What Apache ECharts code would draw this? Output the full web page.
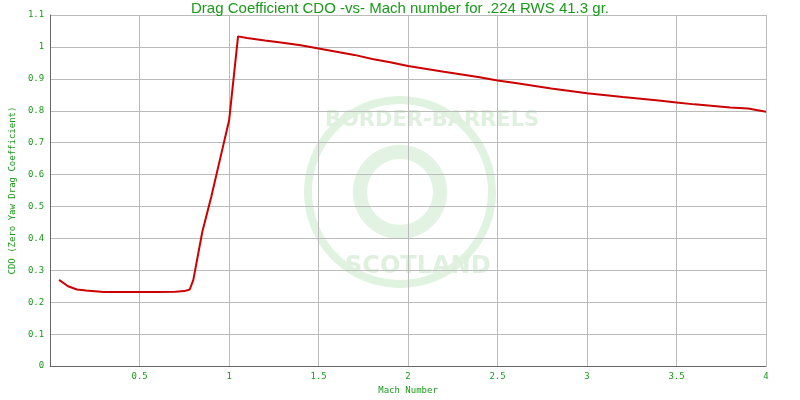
<!DOCTYPE html>
<html><head><meta charset="utf-8">
<script src="https://cdn.jsdelivr.net/npm/echarts@6/dist/echarts.min.js"></script>
<style>html,body{margin:0;padding:0;background:#fff}#c{width:800px;height:400px}</style>
</head><body><div id="c"></div>
<script>
const mach = [0.05,0.1,0.15,0.2,0.3,0.4,0.5,0.6,0.7,0.75,0.78,0.8,0.85,0.9,0.95,1.0,1.05,1.1,1.2,1.3,1.4,1.5,1.6,1.7,1.8,1.9,2.0,2.2,2.4,2.5,2.6,2.8,3.0,3.2,3.4,3.5,3.6,3.8,3.9,4.0];
const cdo  = [0.27,0.25,0.24,0.237,0.232,0.232,0.232,0.232,0.233,0.235,0.24,0.27,0.42,0.53,0.65,0.77,1.033,1.028,1.02,1.013,1.005,0.995,0.985,0.975,0.962,0.952,0.94,0.922,0.905,0.895,0.887,0.87,0.855,0.843,0.832,0.826,0.82,0.81,0.807,0.797];
const chart = echarts.init(document.getElementById('c'));
const txt = {color:'#1a9a1a', fontFamily:'DejaVu Sans Mono', fontSize:9};
chart.setOption({
  backgroundColor:'#fff',
  title:{text:'Drag Coefficient CDO -vs- Mach number for .224 RWS 41.3 gr.', left:'center', top:-4,
    textStyle:{color:'#1a9a1a', fontFamily:'Liberation Sans', fontWeight:'normal', fontSize:15}},
  graphic:[
    {type:'circle', shape:{cx:400,cy:192,r:92}, style:{fill:'none', stroke:'#e0f2e0', lineWidth:8}, z:-1},
    {type:'circle', shape:{cx:400,cy:192,r:40}, style:{fill:'none', stroke:'#e3f3e3', lineWidth:14}, z:-1},
    {type:'text', left:325, top:110, style:{text:'BORDER-BARRELS', fill:'#dff0df', font:'bold 21px DejaVu Sans'}, z:-1},
    {type:'text', left:345, top:255, style:{text:'SCOTLAND', fill:'#dff0df', font:'bold 24px DejaVu Sans'}, z:-1}
  ],
  grid:{left:46, right:34, top:15, bottom:30},
  xAxis:{type:'value', min:0, max:4, interval:0.5, name:'Mach Number', nameLocation:'middle', nameGap:18,
    nameTextStyle:txt,
    axisLine:{lineStyle:{color:'#666'}}, axisTick:{show:false},
    axisLabel:Object.assign({margin:6, formatter:v=>v===0?'':String(v)}, txt),
    splitLine:{lineStyle:{color:'#bbb', width:1}}},
  yAxis:{type:'value', min:0, max:1.1, interval:0.1, name:'CDO (Zero Yaw Drag Coefficient)', nameLocation:'middle', nameGap:30,
    nameTextStyle:txt,
    axisLine:{show:true, lineStyle:{color:'#666'}}, axisTick:{show:false},
    axisLabel:Object.assign({margin:6, formatter:v=>String(+v.toFixed(1))}, txt),
    splitLine:{lineStyle:{color:'#bbb', width:1}}},
  series:[{type:'line', data:mach.map((m,i)=>[m,cdo[i]]), showSymbol:false, z:5,
    lineStyle:{color:'#cc0000', width:2}}],
  animation:false
});
</script></body></html>
